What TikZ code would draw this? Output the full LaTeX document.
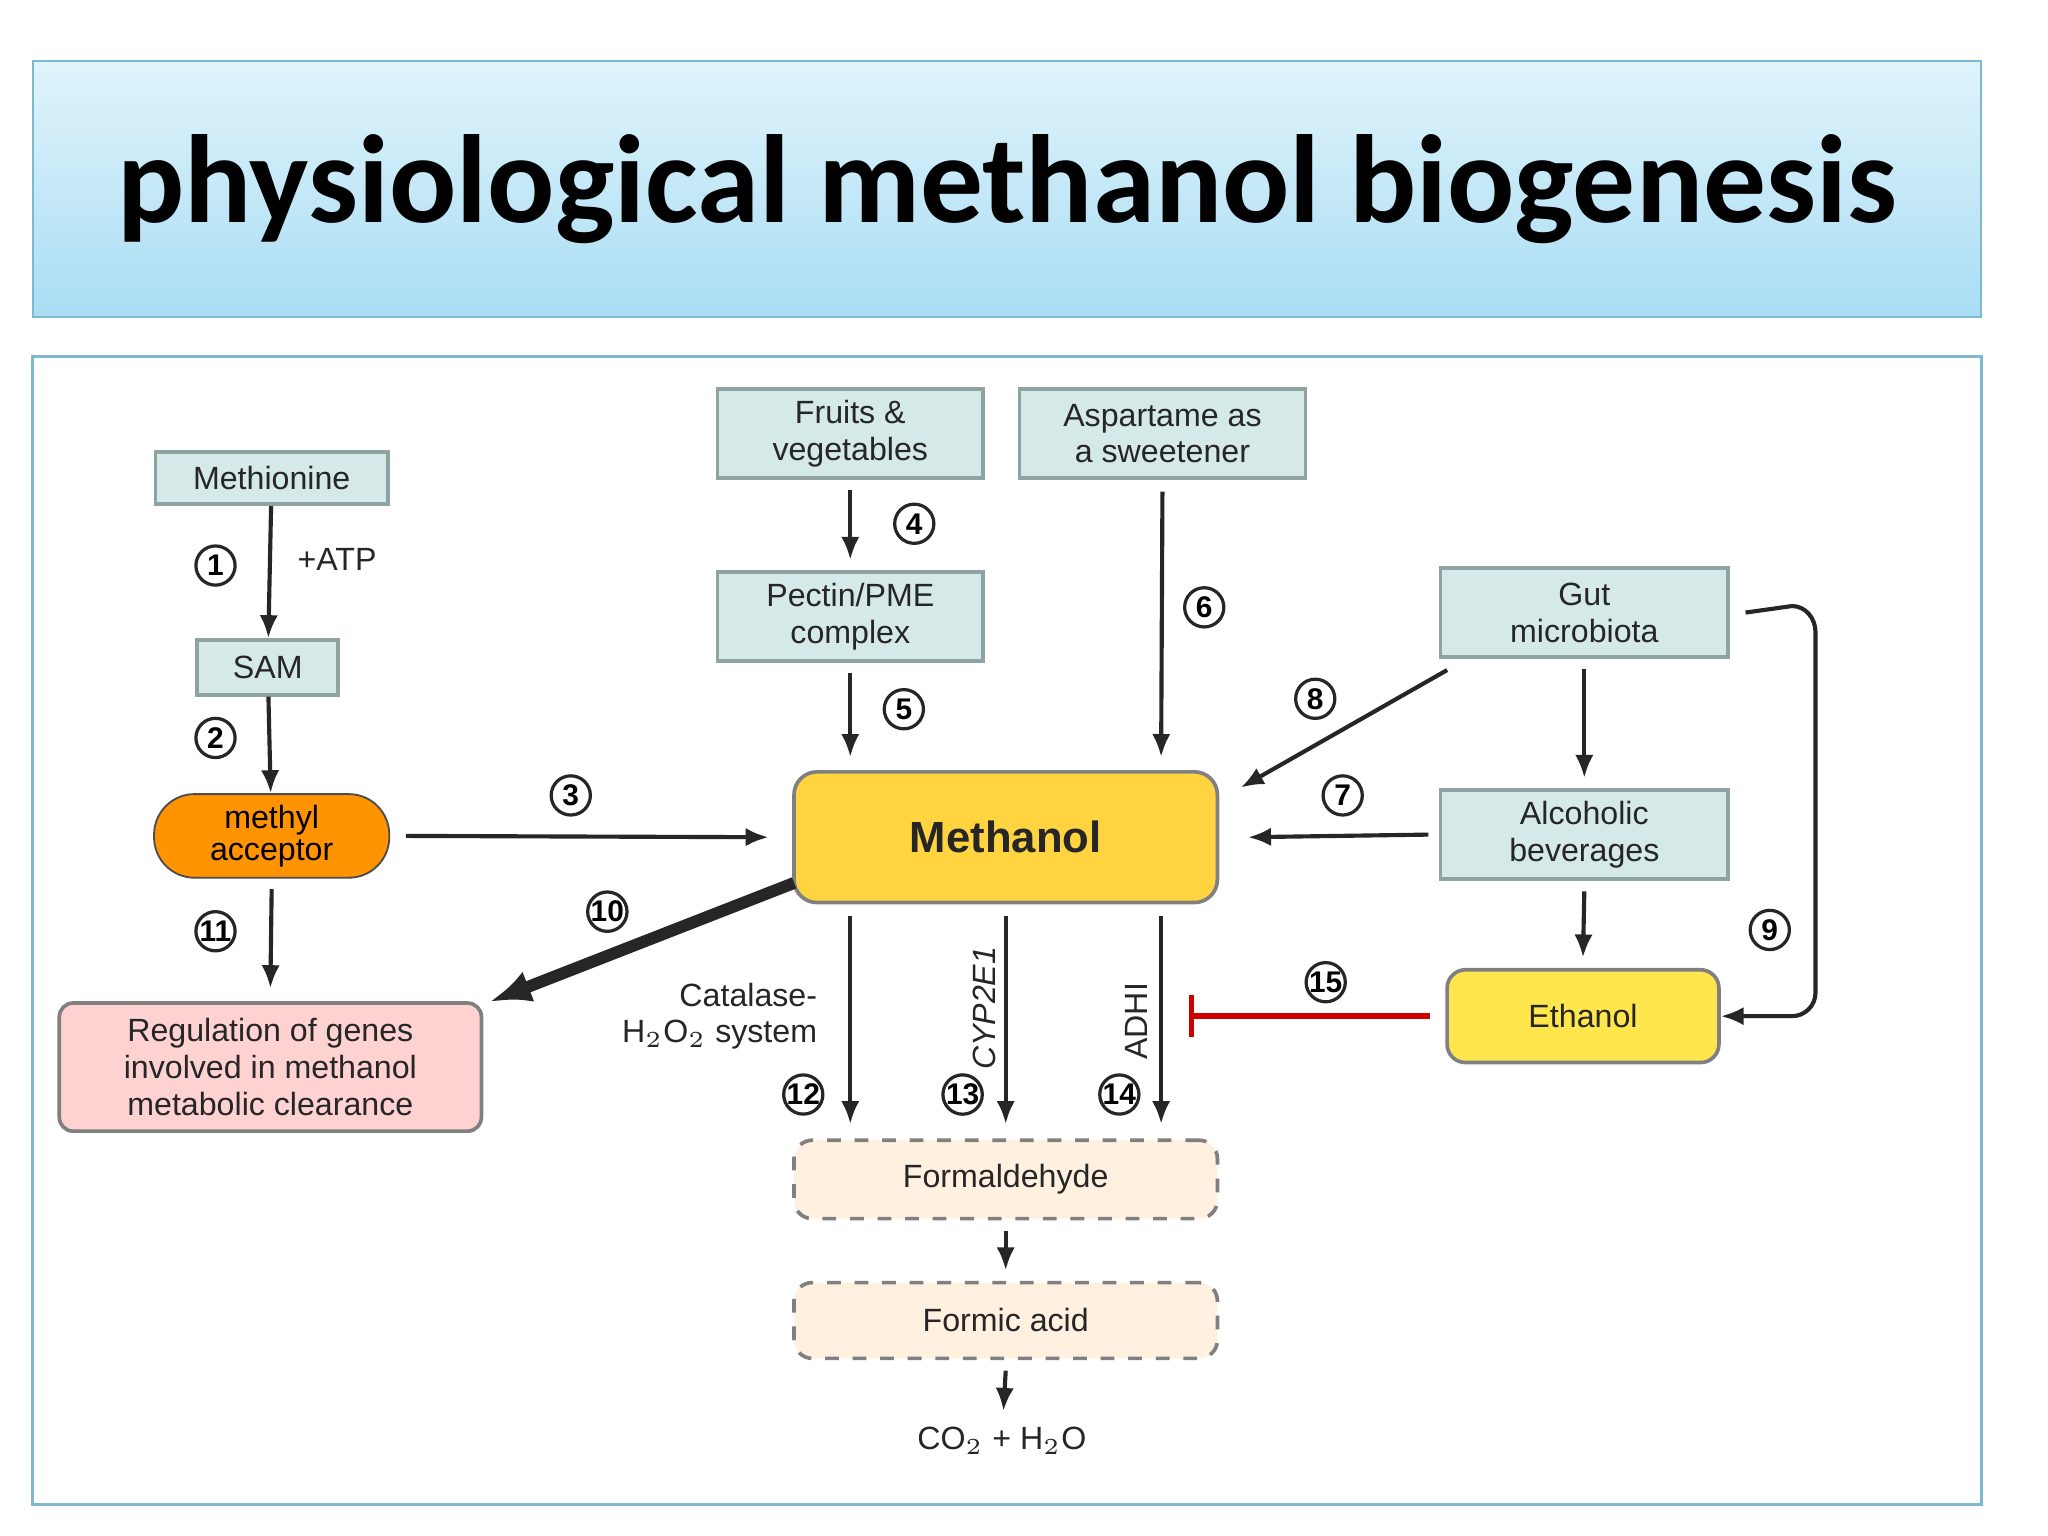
\documentclass[tikz,border=0pt]{standalone}
\usepackage{fontspec}
\setmainfont{Liberation Sans}
\newfontfamily\titlefont{Carlito}
\usetikzlibrary{arrows.meta,calc}
\definecolor{boxf}{HTML}{D6E9E9}
\definecolor{boxd}{HTML}{8FA3A3}
\definecolor{ttop}{HTML}{E0F4FB}
\definecolor{tbot}{HTML}{A9DDF4}
\definecolor{tdraw}{HTML}{7FB9CF}
\begin{document}
\begin{tikzpicture}[x=0.01cm,y=-0.01cm,
 box/.style={draw=boxd,fill=boxf,line width=0.8pt,align=center,inner sep=0pt,font=\fontsize{7}{8}\selectfont,text=black!85},
 arr/.style={-{Latex[length=5pt,width=4pt]},line width=0.9pt,black!85},
 num/.style={circle,draw=black!85,line width=0.7pt,inner sep=0pt,minimum size=0.3cm,font=\bfseries\fontsize{6.5}{7}\selectfont},
 lab/.style={font=\fontsize{7}{8}\selectfont,text=black!85}]
\useasboundingbox (0,0) rectangle (1568,1176);
\fill[white] (0,0) rectangle (1568,1176);
\shade[top color=ttop,bottom color=tbot,draw=tdraw] (25,47) rectangle (1517,243);
\node (title) at (771,145) {\titlefont\bfseries\fontsize{27.3}{32}\selectfont physiological methanol biogenesis};
\draw[tdraw,line width=0.7pt,fill=white] (25,273) rectangle (1517,1152);
% boxes
\node[box,minimum width=1.78cm,minimum height=0.4cm] (met) at (208,366) {Methionine};
\node[box,minimum width=1.08cm,minimum height=0.42cm] (sam) at (205,511) {SAM};
\node[draw=black!70,fill=orange!85!yellow,rounded corners=0.31cm,minimum width=1.8cm,minimum height=0.64cm,inner sep=0pt,align=center,font=\fontsize{7}{8}\selectfont] (acc) at (208,640) {methyl\\[-1pt]acceptor};
\node[box,draw=black!50,fill=pink!70!white,rounded corners=3pt,minimum width=3.23cm,minimum height=0.98cm] (reg) at (207,817) {Regulation of genes\\involved in methanol\\metabolic clearance};
\node[box,minimum width=2.03cm,minimum height=0.68cm] (fru) at (651,332) {Fruits \&\\vegetables};
\node[box,minimum width=2.03cm,minimum height=0.68cm] (pec) at (651,472) {Pectin/PME\\complex};
\node[box,minimum width=2.19cm,minimum height=0.68cm] (asp) at (890,332) {Aspartame as\\a sweetener};
\node[box,minimum width=2.2cm,minimum height=0.68cm] (gut) at (1213,469) {Gut\\microbiota};
\node[box,minimum width=2.2cm,minimum height=0.68cm] (alc) at (1213,639) {Alcoholic\\beverages};
\node[box,draw=black!50,fill=yellow!80!orange!70,rounded corners=4pt,minimum width=2.08cm,minimum height=0.71cm] (eth) at (1212,778) {Ethanol};
\node[box,draw=black!50,fill=orange!45!yellow!75,rounded corners=5pt,minimum width=3.24cm,minimum height=1cm,font=\bfseries\fontsize{9.5}{11}\selectfont] (meth) at (770,641) {Methanol};
\node[box,draw=black!50,dashed,fill=orange!12!white,rounded corners=4pt,minimum width=3.24cm,minimum height=0.6cm] (form) at (770,903) {Formaldehyde};
\node[box,draw=black!50,dashed,fill=orange!12!white,rounded corners=4pt,minimum width=3.24cm,minimum height=0.58cm] (fac) at (770,1011) {Formic acid};
\node[lab] (co2) at (767,1103) {CO$_2$ + H$_2$O};
% arrows
\draw[arr] (met) -- (sam);
\node[num] at (165,433) {1}; \node[lab] at (258,428) {+ATP};
\draw[arr] (sam) -- (acc);
\node[num] at (165,565) {2};
\draw[arr] ($(acc.east)+(12,0)$) -- ($(meth.west)+(-18,0)$);
\node[num] at (437,609) {3};
\draw[arr] ($(fru.south)+(0,8)$) -- ($(pec.north)+(0,-8)$); \node[num] at (700,401) {4};
\draw[arr] ($(pec.south)+(0,8)$) -- ($(meth.north)+(-119,-10)$); \node[num] at (692,543) {5};
\draw[arr] ($(asp.south)+(0,9)$) -- ($(meth.north)+(119,-10)$); \node[num] at (922,465) {6};
\coordinate (g8) at (1108,513);
\draw[arr] (g8) -- (950,603); \node[num] at (1007,535) {8};
\draw[arr] ($(gut.south)+(0,8)$) -- ($(alc.north)+(0,-8)$);
\draw[arr] ($(alc.west)+(-8,0)$) -- ($(meth.east)+(22,0)$); \node[num] at (1028,609) {7};
\draw[arr] ($(alc.south)+(0,8)$) -- ($(eth.north)+(0,-8)$);
\draw[arr] ($(gut.east)+(12,0)$) -- (1372,464) to[out=0,in=90] (1390,484) -- (1390,760) to[out=-90,in=0] (1372,778) -- (eth.east);
\node[num] at (1355,712) {9};
\draw[arr,line width=2.6pt,-{Latex[length=9pt,width=7pt]}] (608,676) -- (375,767); \node[num] at (465,698) {10};
\draw[arr] ($(acc.south)+(0,8)$) -- ($(reg.north)+(0,-10)$); \node[num] at (165,713) {11};
\draw[arr] ($(meth.south)+(-119,9)$) -- ($(form.north)+(-119,-11)$);
\draw[arr] ($(meth.south)+(0,9)$) -- ($(form.north)+(0,-11)$);
\draw[arr] ($(meth.south)+(119,9)$) -- ($(form.north)+(119,-11)$);
\node[num] at (615,838) {12}; \node[num] at (737,838) {13}; \node[num] at (857,838) {14};
\node[lab,align=right,anchor=east] at (638,778) {Catalase-\\H$_2$O$_2$ system};
\node[lab,rotate=90,font=\itshape\fontsize{7}{8}\selectfont] at (754,772) {CYP2E1};
\node[lab,rotate=90] at (870,782) {ADHI};
\draw[red!80!black,line width=1.2pt,-{Bar[width=9pt]}] ($(eth.west)+(-12,0)$) -- (910,778);
\node[num] at (1015,752) {15};
\draw[arr] ($(form.south)+(0,8)$) -- ($(fac.north)+(0,-8)$);
\draw[arr] ($(fac.south)+(0,8)$) -- (co2);
\end{tikzpicture}
\end{document}
